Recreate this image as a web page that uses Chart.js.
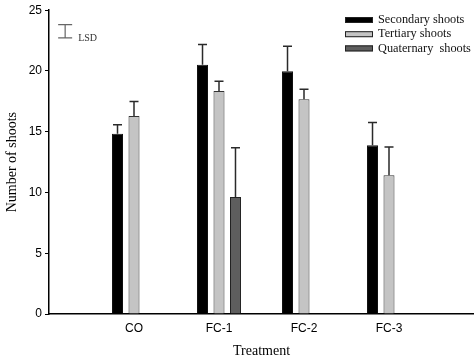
<!DOCTYPE html>
<html>
<head>
<meta charset="utf-8">
<script src="https://cdn.jsdelivr.net/npm/chart.js@4"></script>
<style>
  body { margin: 0; background: #fff; }
  canvas { display: block; }
</style>
</head>
<body>
<canvas id="shootsChart" width="474" height="360"></canvas>
<script>
// empty slots at both ends so the categories sit at 1..4 on a 0..5 axis
const categories = ['', 'CO', 'FC-1', 'FC-2', 'FC-3', ''];
const secondary = [null, 14.84, 20.52, 19.98, 13.88, null];
const secondaryErr = [null, 0.74, 1.65, 2.05, 1.87, null];
const tertiary = [null, 16.29, 18.35, 17.67, 11.41, null];
const tertiaryErr = [null, 1.19, 0.80, 0.82, 2.33, null];
const quaternary = [null, null, 9.62, null, null, null];
const quaternaryErr = [null, null, 4.07, null, null, null];
const yTicks = [0, 5, 10, 15, 20, 25];
// LSD marker: x in category index units, mean and half range in y units
const lsdX = 0.19;
const lsdMid = 23.27;
const lsdHalf = 0.55;

const serif = '"Liberation Serif", "Times New Roman", serif';
const sans = '"Liberation Sans", Arial, sans-serif';

// error bars (upper half only) on top of each bar
const errorBars = {
    id: 'errorBars',
    afterDatasetsDraw(chart) {
        const ctx = chart.ctx;
        const yScale = chart.scales.y;
        const xScale = chart.scales.x;
        const errs = [secondaryErr, tertiaryErr, quaternaryErr];
        ctx.save();
        ctx.strokeStyle = '#2a2a2a';
        ctx.lineWidth = 1.5;
        errs.forEach((errArr, di) => {
            const meta = chart.getDatasetMeta(di);
            const vals = chart.data.datasets[di].data;
            meta.data.forEach((bar, i) => {
                if (vals[i] == null || errArr[i] == null) return;
                const x = bar.x;
                const y0 = yScale.getPixelForValue(vals[i]);
                const y1 = yScale.getPixelForValue(vals[i] + errArr[i]);
                const cap = 4.5;
                ctx.beginPath();
                ctx.moveTo(x, y0);
                ctx.lineTo(x, y1);
                ctx.moveTo(x - cap, y1);
                ctx.lineTo(x + cap, y1);
                ctx.stroke();
            });
        });

        // LSD bar
        const lx = xScale.getPixelForValue(lsdX);
        const ly0 = yScale.getPixelForValue(lsdMid - lsdHalf);
        const ly1 = yScale.getPixelForValue(lsdMid + lsdHalf);
        ctx.strokeStyle = '#666';
        ctx.lineWidth = 1.2;
        ctx.beginPath();
        ctx.moveTo(lx, ly0);
        ctx.lineTo(lx, ly1);
        ctx.moveTo(lx - 7, ly0);
        ctx.lineTo(lx + 7, ly0);
        ctx.moveTo(lx - 7, ly1);
        ctx.lineTo(lx + 7, ly1);
        ctx.stroke();
        ctx.fillStyle = '#333';
        ctx.font = '10px ' + serif;
        ctx.textBaseline = 'alphabetic';
        ctx.fillText('LSD', lx + 13, ly0 + 3);
        ctx.restore();
    }
};

// legend drawn inside the plot, top right
const insideLegend = {
    id: 'insideLegend',
    afterDraw(chart, args, opts) {
        const ctx = chart.ctx;
        ctx.save();
        ctx.font = '12.3px ' + serif;
        ctx.textBaseline = 'middle';
        chart.data.datasets.forEach((ds, i) => {
            const cy = opts.top + i * opts.rowGap;
            ctx.fillStyle = ds.backgroundColor;
            ctx.fillRect(opts.left, cy - 3, 28, 6);
            ctx.strokeStyle = '#222';
            ctx.lineWidth = 1;
            ctx.strokeRect(opts.left + 0.5, cy - 3 + 0.5, 27, 5);
            ctx.fillStyle = '#111';
            ctx.fillText(ds.label, opts.left + 33, cy);
        });
        ctx.restore();
    }
};

const ctx = document.getElementById('shootsChart').getContext('2d');
const shootsChart = new Chart(ctx, {
    type: 'bar',
    data: {
        labels: categories,
        datasets: [{
            label: 'Secondary shoots',
            data: secondary,
            backgroundColor: '#000000',
            borderColor: '#111',
            borderWidth: 1
        }, {
            label: 'Tertiary shoots',
            data: tertiary,
            backgroundColor: '#c4c4c4',
            borderColor: '#333',
            borderWidth: 1
        }, {
            label: 'Quaternary  shoots',
            data: quaternary,
            backgroundColor: '#5e5e5e',
            borderColor: '#222',
            borderWidth: 1
        }]
    },
    options: {
        responsive: false,
        animation: false,
        categoryPercentage: 0.582,
        barPercentage: 0.667,
        layout: {
            padding: { top: 10, right: 0, left: 0, bottom: 0 }
        },
        plugins: {
            legend: { display: false },
            tooltip: { enabled: false },
            insideLegend: { left: 345, top: 20, rowGap: 14.2 }
        },
        scales: {
            x: {
                offset: false,
                grid: { display: false, drawTicks: false },
                border: { color: '#000', width: 1.5 },
                ticks: {
                    color: '#000',
                    font: { family: sans, size: 12 },
                    padding: 7,
                    autoSkip: false,
                    maxRotation: 0
                },
                title: {
                    display: true,
                    text: 'Treatment',
                    color: '#000',
                    font: { family: serif, size: 14 },
                    padding: { top: 0, bottom: 0 }
                },
                afterFit(scale) {
                    scale.height = 46;
                    scale.paddingRight = 0;
                    scale.paddingLeft = 0;
                }
            },
            y: {
                min: 0,
                max: 25,
                afterBuildTicks(scale) {
                    scale.ticks = yTicks.map(v => ({ value: v }));
                },
                grid: {
                    display: true,
                    drawOnChartArea: false,
                    drawTicks: true,
                    tickLength: 4,
                    color: '#000',
                    lineWidth: 1
                },
                border: { color: '#000', width: 1.5 },
                ticks: {
                    color: '#000',
                    font: { family: sans, size: 12 },
                    padding: 3
                },
                title: {
                    display: true,
                    text: 'Number of shoots',
                    color: '#000',
                    font: { family: serif, size: 14 },
                    padding: { top: 4, bottom: 0 }
                },
                afterFit(scale) { scale.width = 49; }
            }
        }
    },
    plugins: [errorBars, insideLegend]
});
</script>
</body>
</html>
